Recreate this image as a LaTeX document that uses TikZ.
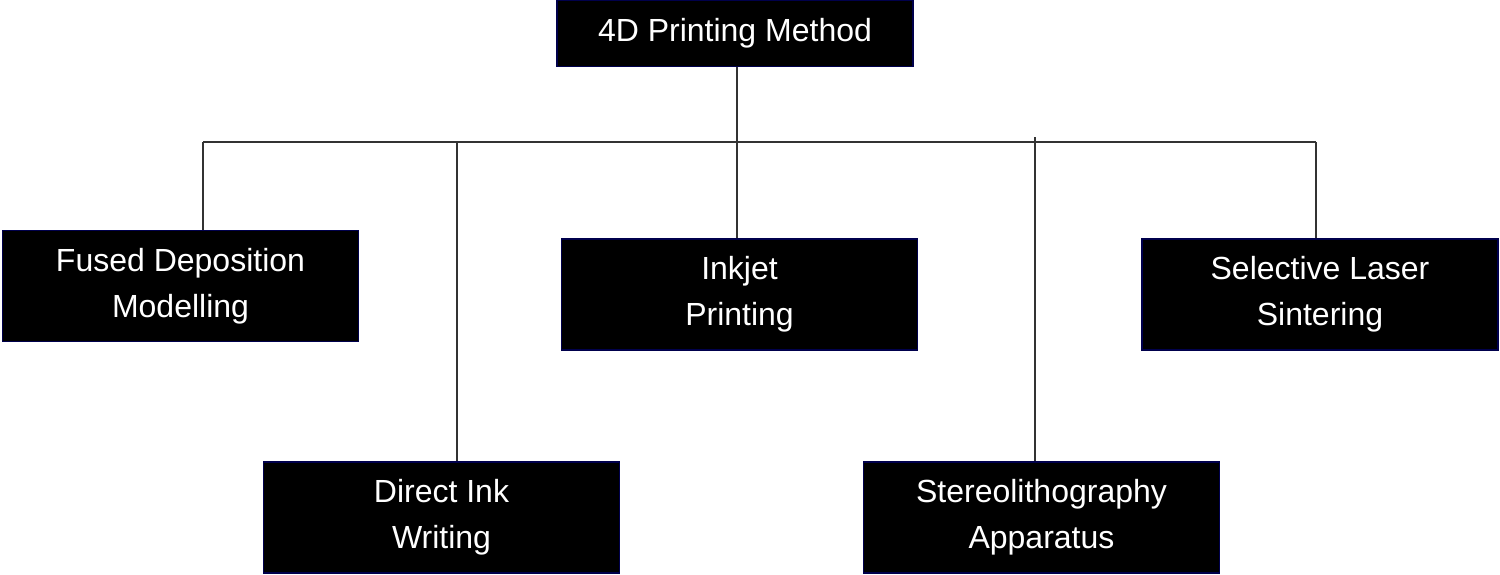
\documentclass[tikz,border=0pt]{standalone}
\usepackage{fontspec}
\setmainfont{Liberation Sans}
\begin{document}
\begin{tikzpicture}[x=1pt,y=-1pt,
  box/.style={draw=blue!30!black,line width=1.5pt,fill=black,text=white,minimum width=356pt,align=center,font=\fontsize{32}{46}\selectfont,inner sep=0pt},
  conn/.style={draw=black!80,line width=1.5pt}]
\useasboundingbox (0,0) rectangle (1500,574);
\node[box,minimum height=66pt] (top) at (735,33.5) {4D Printing Method};
\node[box,minimum height=111pt] (fdm) at (180.5,286) {Fused Deposition\\Modelling};
\node[box,minimum height=111pt] (ink) at (739.5,294.5) {Inkjet\\Printing};
\node[box,minimum height=111pt] (sls) at (1320,294.5) {Selective Laser\\Sintering};
\node[box,minimum height=111pt] (diw) at (441.5,517.5) {Direct Ink\\Writing};
\node[box,minimum height=111pt] (sla) at (1041.5,517.5) {Stereolithography\\Apparatus};
\coordinate (hl) at (203,142);
\coordinate (hr) at (1316,142);
\draw[conn] (hl) -- (hr);
\draw[conn] (top.south -| 737,0) -- (ink.north -| 737,0);
\draw[conn] (hl) -- (fdm.north -| hl);
\draw[conn] (457,142) coordinate (d) -- (diw.north -| d);
\draw[conn] (1035,137) coordinate (s) -- (sla.north -| s);
\draw[conn] (hr) -- (sls.north -| hr);
\end{tikzpicture}
\end{document}
